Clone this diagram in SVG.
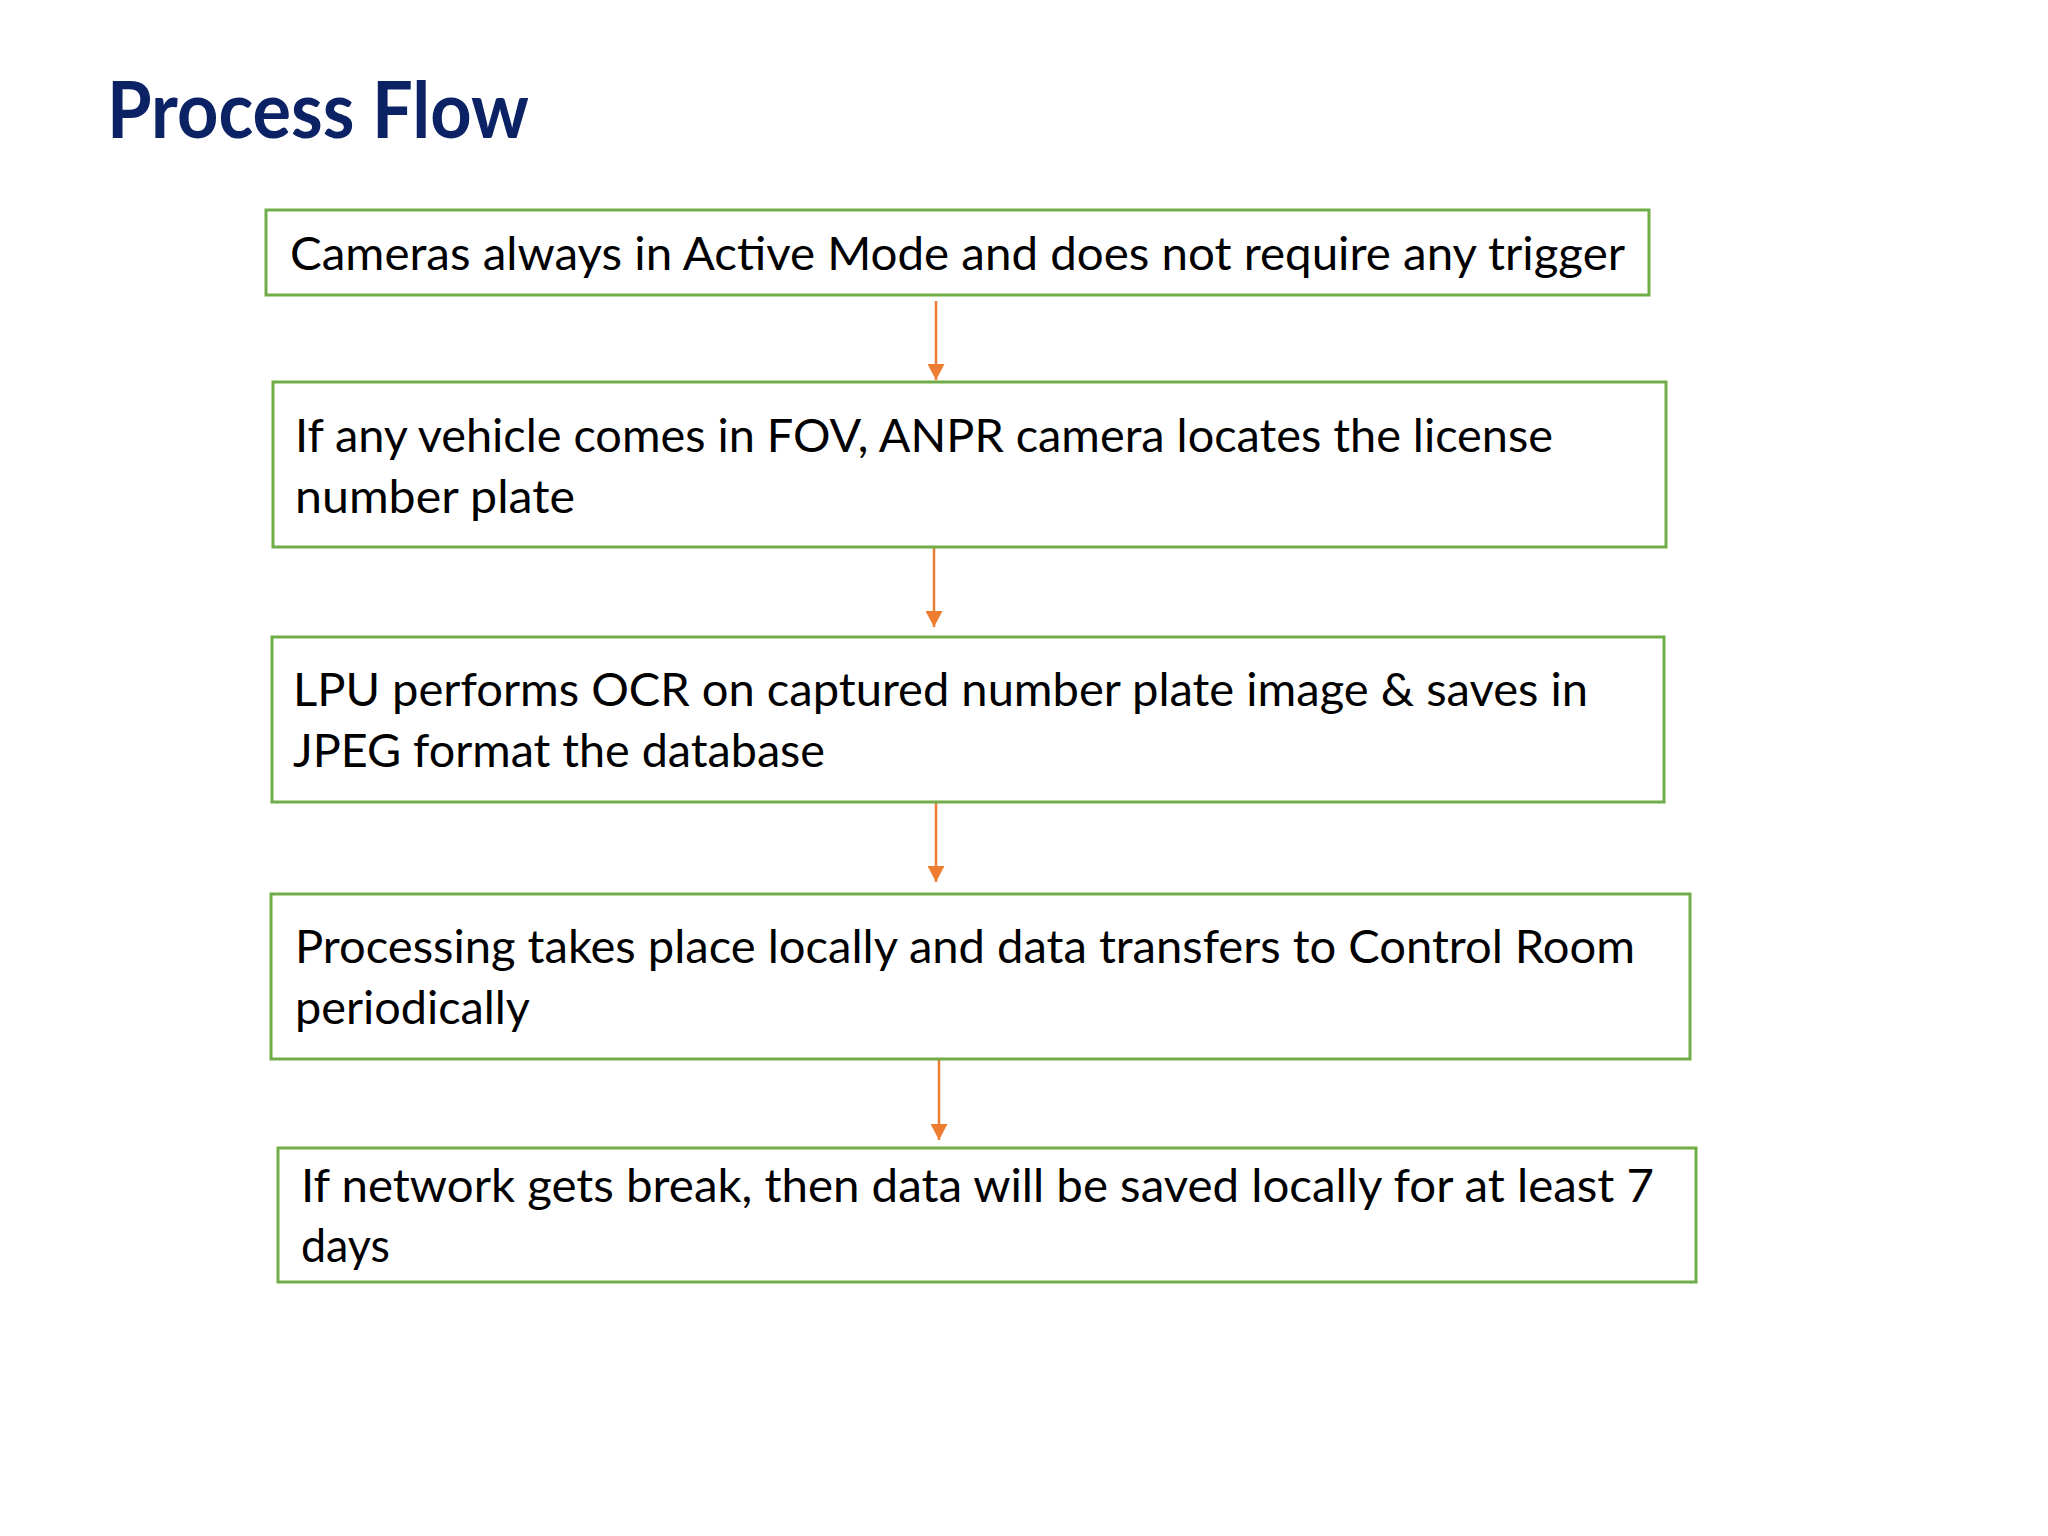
<svg xmlns="http://www.w3.org/2000/svg" width="2048" height="1536" viewBox="0 0 2048 1536">
<defs>
<style>
.box{fill:#ffffff;stroke:#70AD47;stroke-width:3}
.t{font-family:Lato,"Open Sans","Liberation Sans",sans-serif;font-size:46px;fill:#000000}
.title{font-family:Lato,"Open Sans","Liberation Sans",sans-serif;font-size:79px;font-weight:bold;fill:#0B2265}
.arrow{stroke:#ED7D31;stroke-width:2.5;fill:none;marker-end:url(#ah)}
</style>
<marker id="ah" viewBox="0 0 16 17" refX="16" refY="8.5" markerWidth="16" markerHeight="17" markerUnits="userSpaceOnUse" orient="auto">
<path d="M0,0 L16,8.5 L0,17 z" fill="#ED7D31"/>
</marker>
</defs>
<rect width="2048" height="1536" fill="#ffffff"/>
<text id="title" class="title" x="107" y="138" textLength="422" lengthAdjust="spacingAndGlyphs">Process Flow</text>

<g id="connectors">
<line class="arrow" x1="936" y1="301" x2="936" y2="380"/>
<line class="arrow" x1="934" y1="548" x2="934" y2="627"/>
<line class="arrow" x1="936" y1="803" x2="936" y2="882"/>
<line class="arrow" x1="939" y1="1060" x2="939" y2="1140"/>
</g>

<g id="node1">
<rect class="box" x="266" y="210" width="1383" height="85"/>
<text class="t" x="290" y="270" textLength="1335" lengthAdjust="spacingAndGlyphs">Cameras always in Active Mode and does not require any trigger</text>
</g>
<g id="node2">
<rect class="box" x="273" y="382" width="1393" height="165"/>
<text class="t" x="295" y="452" textLength="1258" lengthAdjust="spacingAndGlyphs">If any vehicle comes in FOV, ANPR camera locates the license</text>
<text class="t" x="295" y="513" textLength="280" lengthAdjust="spacingAndGlyphs">number plate</text>
</g>
<g id="node3">
<rect class="box" x="272" y="637" width="1392" height="165"/>
<text class="t" x="293" y="706" textLength="1295" lengthAdjust="spacingAndGlyphs">LPU performs OCR on captured number plate image &amp; saves in</text>
<text class="t" x="293" y="767" textLength="532" lengthAdjust="spacingAndGlyphs">JPEG format the database</text>
</g>
<g id="node4">
<rect class="box" x="271" y="894" width="1419" height="165"/>
<text class="t" x="295" y="963" textLength="1340" lengthAdjust="spacingAndGlyphs">Processing takes place locally and data transfers to Control Room</text>
<text class="t" x="295" y="1024" textLength="235" lengthAdjust="spacingAndGlyphs">periodically</text>
</g>
<g id="node5">
<rect class="box" x="278" y="1148" width="1418" height="134"/>
<text class="t" x="301" y="1202" textLength="1353" lengthAdjust="spacingAndGlyphs">If network gets break, then data will be saved locally for at least 7</text>
<text class="t" x="301" y="1262" textLength="89" lengthAdjust="spacingAndGlyphs">days</text>
</g>
</svg>
